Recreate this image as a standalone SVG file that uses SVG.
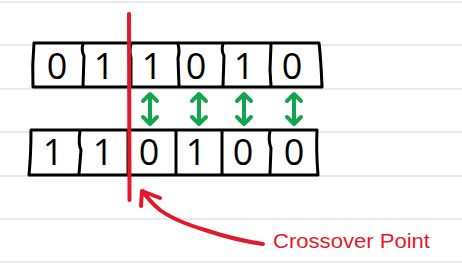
<svg xmlns="http://www.w3.org/2000/svg" width="462" height="265" viewBox="0 0 462 265">
  <style>
    .rule { stroke: #e9e9e9; stroke-width: 2; fill: none; }
    .box { stroke: #000; stroke-width: 3; fill: #fff; stroke-linejoin: round; stroke-linecap: round; }
    .div { stroke: #000; stroke-width: 3; fill: none; stroke-linecap: round; }
    .digit { font-family: "Open Sans", "Liberation Sans", sans-serif; font-size: 36px; fill: #000; text-anchor: middle; }
    .green { stroke: #13a54e; stroke-width: 4; fill: none; stroke-linecap: round; stroke-linejoin: round; }
    .red { stroke: #e3192b; stroke-width: 4; fill: none; stroke-linecap: round; stroke-linejoin: round; }
    .label { font-family: "Liberation Sans", "DejaVu Sans", sans-serif; font-size: 21px; fill: #e3192b; }
  </style>
  <rect width="462" height="265" fill="#fff"/>
  <g id="rules">
    <line class="rule" x1="0" y1="2" x2="462" y2="2"/>
    <line class="rule" x1="0" y1="45" x2="462" y2="45"/>
    <line class="rule" x1="0" y1="89" x2="462" y2="89"/>
    <line class="rule" x1="0" y1="132" x2="462" y2="132"/>
    <line class="rule" x1="0" y1="176" x2="462" y2="176"/>
    <line class="rule" x1="0" y1="219" x2="462" y2="219"/>
    <line class="rule" x1="0" y1="262" x2="462" y2="262"/>
  </g>
  <g id="parent1">
    <path class="box" d="M34,43 L319,43 Q321,60 322,87 L33,87 Q32,65 34,43 Z"/>
    <path class="div" d="M83,44 Q81,50 84,56 L83,86"/>
    <path class="div" d="M131,44 Q129,52 131,58 L131,86"/>
    <path class="div" d="M178,44 Q180,52 178,58 L179,86"/>
    <path class="div" d="M223,44 Q221,50 224,56 L223,86"/>
    <path class="div" d="M271,44 L270,70 L271,86"/>
    <text class="digit" x="57" y="79">0</text>
    <text class="digit" x="104" y="79">1</text>
    <text class="digit" x="152" y="79">1</text>
    <text class="digit" x="196" y="79">0</text>
    <text class="digit" x="244" y="79">1</text>
    <text class="digit" x="292" y="79">0</text>
  </g>
  <g id="parent2">
    <path class="box" d="M31,130 L317,130 Q316,150 318,175 L29,175 Q31,155 31,130 Z"/>
    <path class="div" d="M80,131 Q78,145 81,150 L79,174"/>
    <path class="div" d="M128,131 L128,174"/>
    <path class="div" d="M176,131 L176,174"/>
    <path class="div" d="M222,131 L222,174"/>
    <path class="div" d="M270,131 Q268,140 271,148 L270,174"/>
    <text class="digit" x="53" y="165">1</text>
    <text class="digit" x="103" y="165">1</text>
    <text class="digit" x="149" y="165">0</text>
    <text class="digit" x="196" y="165">1</text>
    <text class="digit" x="243" y="165">0</text>
    <text class="digit" x="294" y="165">0</text>
  </g>
  <g id="connectors">
    <g id="swap-arrows">
      <path class="green" d="M150,94 L150,124 M143,101 L150,94 L157,101 M143,117 L150,124 L157,117"/>
      <path class="green" d="M199,94 L199,124 M192,101 L199,94 L206,101 M192,117 L199,124 L206,117"/>
      <path class="green" d="M244,94 L244,124 M237,101 L244,94 L251,101 M237,117 L244,124 L251,117"/>
      <path class="green" d="M294,94 L294,124 M287,101 L294,94 L301,101 M287,117 L294,124 L301,117"/>
    </g>
    <path id="crossover-line" class="red" d="M129,14 L129.5,200"/>
    <path id="pointer" class="red" d="M263,244 Q235,240 205,230 Q175,221 160,210 Q148,200 143,191 M141,206 L142,191 L160,198"/>
  </g>
  <g id="label">
    <text class="label" x="273" y="248" textLength="157" lengthAdjust="spacingAndGlyphs">Crossover Point</text>
  </g>
</svg>
